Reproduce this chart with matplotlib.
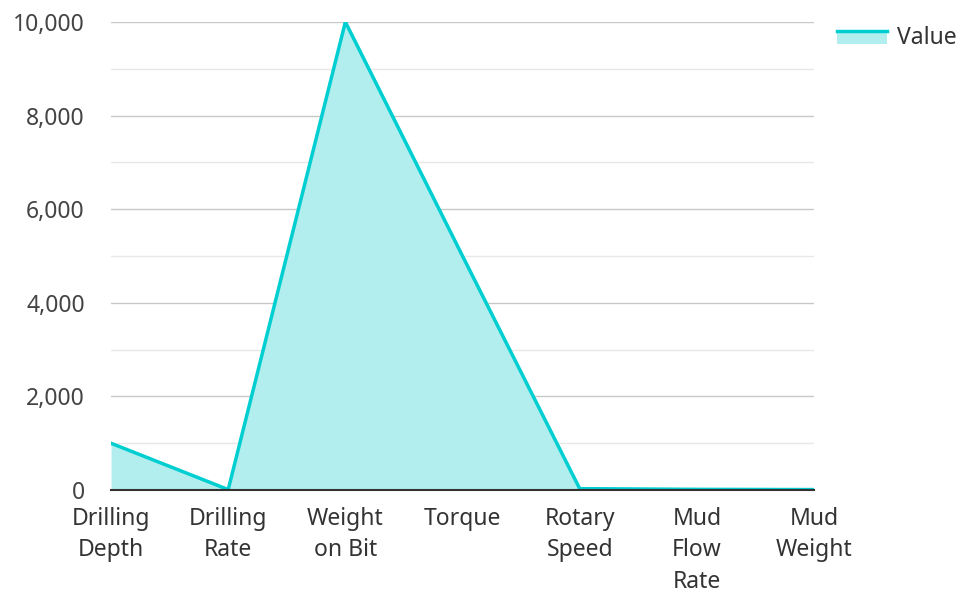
import matplotlib.pyplot as plt
from matplotlib.lines import Line2D
from matplotlib.patches import Rectangle
from matplotlib.legend_handler import HandlerBase
from matplotlib.ticker import FuncFormatter, MultipleLocator

plt.rcParams['font.family'] = ['Noto Sans', 'DejaVu Sans']

categories = ['Drilling\nDepth', 'Drilling\nRate', 'Weight\non Bit', 'Torque',
              'Rotary\nSpeed', 'Mud\nFlow\nRate', 'Mud\nWeight']
values = [1000, 10, 10000, 5000, 30, 15, 10]

line_color = '#00CED1'
fill_color = '#B2EEEE'


class AreaHandler(HandlerBase):
    # line on top of a filled box, like the reference legend
    def create_artists(self, legend, orig, xd, yd, w, h, fs, trans):
        top = yd + h * 0.85
        rect = Rectangle((xd, yd), w, top - yd, facecolor=fill_color,
                         edgecolor='none', transform=trans)
        ln = Line2D([xd, xd + w], [top, top], color=line_color, lw=2.5,
                    transform=trans)
        return [rect, ln]


fig = plt.figure(figsize=(9.63, 5.94), dpi=100)
ax = fig.add_axes([0.1153, 0.175, 0.73, 0.788])

x = list(range(len(categories)))
ax.fill_between(x, values, 0, color=fill_color, lw=0, zorder=2)
ax.plot(x, values, color=line_color, lw=2.5, zorder=3)

ax.set_xlim(0, len(categories) - 1)
ax.set_ylim(0, 10000)
ax.yaxis.set_major_locator(MultipleLocator(2000))
ax.yaxis.set_minor_locator(MultipleLocator(1000))
ax.yaxis.set_major_formatter(FuncFormatter(lambda v, p: f'{int(v):,}'))
ax.grid(axis='y', which='major', color='#c8c8c8', lw=1, zorder=0)
ax.grid(axis='y', which='minor', color='#e8e8e8', lw=1, zorder=0)

for s in ['top', 'right', 'left']:
    ax.spines[s].set_visible(False)
ax.spines['bottom'].set_color('#333333')
ax.spines['bottom'].set_linewidth(1.5)
ax.spines['bottom'].set_zorder(4)

ax.set_xticks(x)
ax.set_xticklabels(categories, fontsize=16.5, color='#333333', linespacing=1.43, va='top')
ax.tick_params(axis='x', length=0, pad=12)
ax.tick_params(axis='y', which='both', length=0, pad=19, labelsize=16.5, labelcolor='#444444')

leg = fig.legend([object()], ['Value'], loc='upper left', bbox_to_anchor=(0.852, 0.983),
                 frameon=False, fontsize=16.5, handlelength=2.2, handleheight=0.7,
                 handletextpad=0.45, borderaxespad=0.3, handler_map={object: AreaHandler()})
for t in leg.get_texts():
    t.set_color('#333333')

fig.savefig('out.png', dpi=100)
